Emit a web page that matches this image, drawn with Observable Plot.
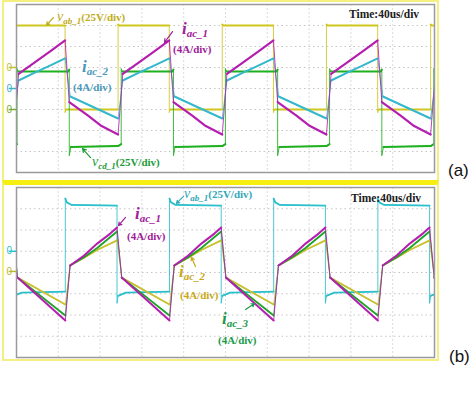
<!DOCTYPE html>
<html><head><meta charset="utf-8">
<script src="https://cdn.jsdelivr.net/npm/d3@7"></script>
<script src="https://cdn.jsdelivr.net/npm/@observablehq/plot@0.6"></script>
<style>
body{margin:0;background:#fff;}
#wrap{position:relative;width:474px;height:398px;overflow:hidden;background:#fff;font-family:"Liberation Serif","Times New Roman",serif;}
.abs{position:absolute;white-space:nowrap;line-height:1;}
.yl{position:absolute;box-sizing:border-box;pointer-events:none;z-index:5;}
.svgbox{position:absolute;left:0;}
</style></head><body><div id="wrap"></div>
<script>
// time in microseconds (40 us/div, 10 divisions); amplitude in screen divisions (8 divisions)
const gridX = [40, 80, 120, 160, 200, 240, 280, 320, 360];
const gridY = [1, 2, 3, 4, 5, 6, 7];

// switching-cycle start times
const cyclesA = [-2.5, 97.2, 196.9, 296.6, 396.3];
const cyclesB = [-53, 46.7, 146.4, 246.1, 345.8];

// traces over one cycle: [phase (us), level (div), slow-segment id (0 = switching edge only)]
// panel (a)
const vab1A = [[0,7.05,1],[1,7.0,1],[49,7.0,1],[49,2.85,0],[50,3.0,2],[99.7,3.0,2]];
const vcd1A = [[0,1.26,3],[3,1.35,3],[3,4.95,0],[4,4.81,1],[52,4.81,1],[53,4.9,1],[53,0.8,0],[54.5,1.22,2],[99.7,1.26,2]];
const iac1A = [[0,1.81,0],[4.5,4.7,1],[20,5.24,1],[35,5.78,1],[49,6.29,1],[53,3.35,2],[55,3.28,2],[71,2.71,2],[83,2.24,2],[99.7,1.81,2]];
const iac2A = [[0,2.57,0],[4.5,4.38,1],[20,4.76,1],[35,5.1,1],[49,5.43,1],[54,3.62,2],[99.7,2.57,2]];

// panel (b)
const vab1B = [[0,3.1,0],[0,7.48,1],[1.5,7.3,1],[6,7.18,1],[49.5,7.15,1],[49.5,2.55,0],[50.5,2.9,2],[58,3.05,2],[99.7,3.1,2]];
const iac1B = [[0,1.74,0],[4.6,4.33,1],[18,4.8,1],[30.5,5.36,1],[43,5.83,1],[49.5,6.12,1],[54,3.76,2],[99.7,1.74,2]];
const iac3B = [[0,1.98,0],[4.6,4.33,1],[18,4.72,1],[30.5,5.15,1],[49.5,5.93,1],[54,3.76,2],[99.7,1.98,2]];
const iac2B = [[0,2.49,0],[4.6,4.33,1],[18,4.7,1],[30.5,5.06,1],[49.5,5.51,1],[54,3.76,2],[99.7,2.49,2]];

// channel ground markers (div)
const markersA = [{y:5.0, c:"#c2c030"}, {y:4.0, c:"#3fb0c8"}, {y:3.0, c:"#7aaa30"}];
const markersB = [{y:5.0, c:"#2cc0cc"}, {y:4.05, c:"#b8b830"}];

// annotation arrows in data units
const arrowsA = [
  {x1:35.4, y1:7.38, x2:28.7, y2:7.02, c:"#c0ac20"},
  {x1:149.3, y1:6.71, x2:141.6, y2:6.19, c:"#a0209a"},
  {x1:70.8, y1:0.71, x2:63.2, y2:1.14, c:"#1c9c38"}
];
const arrowsB = [
  {x1:159.8, y1:7.58, x2:153.1, y2:7.25, c:"#30a8b8"},
  {x1:104.3, y1:6.59, x2:97.6, y2:6.21, c:"#a0209a"},
  {x1:171.3, y1:4.28, x2:167.5, y2:4.71, c:"#c8a818"},
  {x1:219.2, y1:2.26, x2:227.8, y2:2.54, c:"#1a9a48"}
];

function series(cycles, shape) {
  return cycles.flatMap((s, i) => shape.map(([p, v, g]) => ({t: s + p, v, g, z: i * 10 + g})));
}

function panel(top, mb, traces, markers, arrows) {
  const marks = [
    Plot.ruleX(gridX, {stroke:"#dcdcdc", strokeWidth:1, strokeDasharray:"2,2"}),
    Plot.ruleY(gridY, {stroke:"#c4c4c4", strokeWidth:1, strokeDasharray:"1.5,3"})
  ];
  for (const tr of traces) {
    const data = series(tr.cycles, tr.shape);
    marks.push(Plot.line(data, {x:"t", y:"v", stroke:tr.c, strokeWidth:1, strokeOpacity:0.85, clip:true}));
    marks.push(Plot.line(data.filter(d => d.g > 0), {x:"t", y:"v", z:"z", stroke:tr.c, strokeWidth:tr.w || 2, clip:true}));
  }
  marks.push(
    Plot.frame({stroke:"#9a9a9a", strokeWidth:1.5}),
    Plot.ruleY(markers, {y:"y", x1:-7, x2:0, stroke:"c", strokeWidth:1.5}),
    Plot.text(markers, {y:"y", frameAnchor:"left", dx:-10, text:() => "0", fill:"c", fontSize:10, fontFamily:"Liberation Sans, sans-serif"}),
    Plot.arrow(arrows, {x1:"x1", y1:"y1", x2:"x2", y2:"y2", stroke:"c", strokeWidth:1.2, headLength:5})
  );
  const p = Plot.plot({
    width:474, height:180, marginLeft:16, marginRight:40, marginTop:4, marginBottom:mb,
    x:{domain:[0,400], axis:null}, y:{domain:[0,8], axis:null},
    style:{background:"transparent", overflow:"visible"},
    marks
  });
  const box = document.createElement("div");
  box.className = "svgbox";
  box.style.top = top + "px";
  box.appendChild(p);
  return box;
}

const wrap = document.getElementById("wrap");
wrap.appendChild(panel(0, 8, [
  {cycles:cyclesA, shape:vab1A, c:"#d0c61c", w:1.8},
  {cycles:cyclesA, shape:vcd1A, c:"#1eb01e", w:2},
  {cycles:cyclesA, shape:iac2A, c:"#35b8cc", w:2},
  {cycles:cyclesA, shape:iac1A, c:"#b41fb0", w:2.2}
], markersA, arrowsA));
wrap.appendChild(panel(183, 6, [
  {cycles:cyclesB, shape:vab1B, c:"#2cc0cc", w:1.8},
  {cycles:cyclesB, shape:iac2B, c:"#c8c030", w:1.8},
  {cycles:cyclesB, shape:iac3B, c:"#1ea428", w:1.8},
  {cycles:cyclesB, shape:iac1B, c:"#b41fb0", w:2}
], markersB, arrowsB));

// yellow screen frames
function frameDiv(l, t, w, h, css) {
  const d = document.createElement("div");
  d.className = "yl";
  Object.assign(d.style, {left:l+"px", top:t+"px", width:w+"px", height:h+"px"}, css);
  wrap.appendChild(d);
}
frameDiv(2, 0, 437, 182, {borderLeft:"2px solid #f3ef80", borderTop:"2px solid #f3ef80", borderRight:"2px solid #f3ef80"});
frameDiv(2, 180, 437, 181, {borderTop:"5px solid #f5ee10", borderLeft:"2px solid #f3ef80", borderRight:"2px solid #f3ef80", borderBottom:"2px solid #f3ef80"});

// text labels
function label(x, y, html, css) {
  const d = document.createElement("div");
  d.className = "abs";
  d.style.left = x + "px";
  d.style.top = y + "px";
  Object.assign(d.style, css || {});
  d.innerHTML = html;
  wrap.appendChild(d);
}
const I = (s, fs) => `<span style="font-style:italic;font-size:${fs}px">${s}</span>`;
const S = (s, fs) => `<span style="font-style:italic;font-weight:bold;font-size:${fs}px;position:relative;top:3px">${s}</span>`;
const B = (s, fs) => `<span style="font-weight:bold;font-size:${fs}px">${s}</span>`;

// panel (a)
label(57, 8, I("v",14) + S("ab_1",9) + B("(25V/div)",11), {color:"#c0ac20"});
label(182, 20, I("i",17) + S("ac_1",11), {color:"#a0209a", fontWeight:"bold"});
label(173, 40, B("(4A/div)",11), {color:"#a0209a"});
label(82, 58, I("i",17) + S("ac_2",11), {color:"#4a98b8", fontWeight:"bold"});
label(73, 78, B("(4A/div)",11), {color:"#4a98b8"});
label(92, 153, I("v",14) + S("cd_1",9) + B("(25V/div)",11), {color:"#1c9c38"});
label(349, 5, B("Time:40us/div",11.5), {color:"#202020"});
label(448, 162, "(a)", {fontFamily:"Liberation Sans, Arial, sans-serif", fontSize:"17px", color:"#111"});

// panel (b)
label(184, 185, I("v",14) + S("ab_1",9) + B("(25V/div)",11), {color:"#30a8b8"});
label(135, 205, I("i",17) + S("ac_1",11), {color:"#a0209a", fontWeight:"bold"});
label(127, 227, B("(4A/div)",11), {color:"#a0209a"});
label(179, 263, I("i",17) + S("ac_2",11), {color:"#c8a818", fontWeight:"bold"});
label(180, 286, B("(4A/div)",11), {color:"#c8a818"});
label(222, 310, I("i",17) + S("ac_3",11), {color:"#1a9a48", fontWeight:"bold"});
label(218, 331, B("(4A/div)",11), {color:"#1a9a48"});
label(351, 189, B("Time:40us/div",11.5), {color:"#202020"});
label(449, 348, "(b)", {fontFamily:"Liberation Sans, Arial, sans-serif", fontSize:"17px", color:"#111"});
</script></body></html>
